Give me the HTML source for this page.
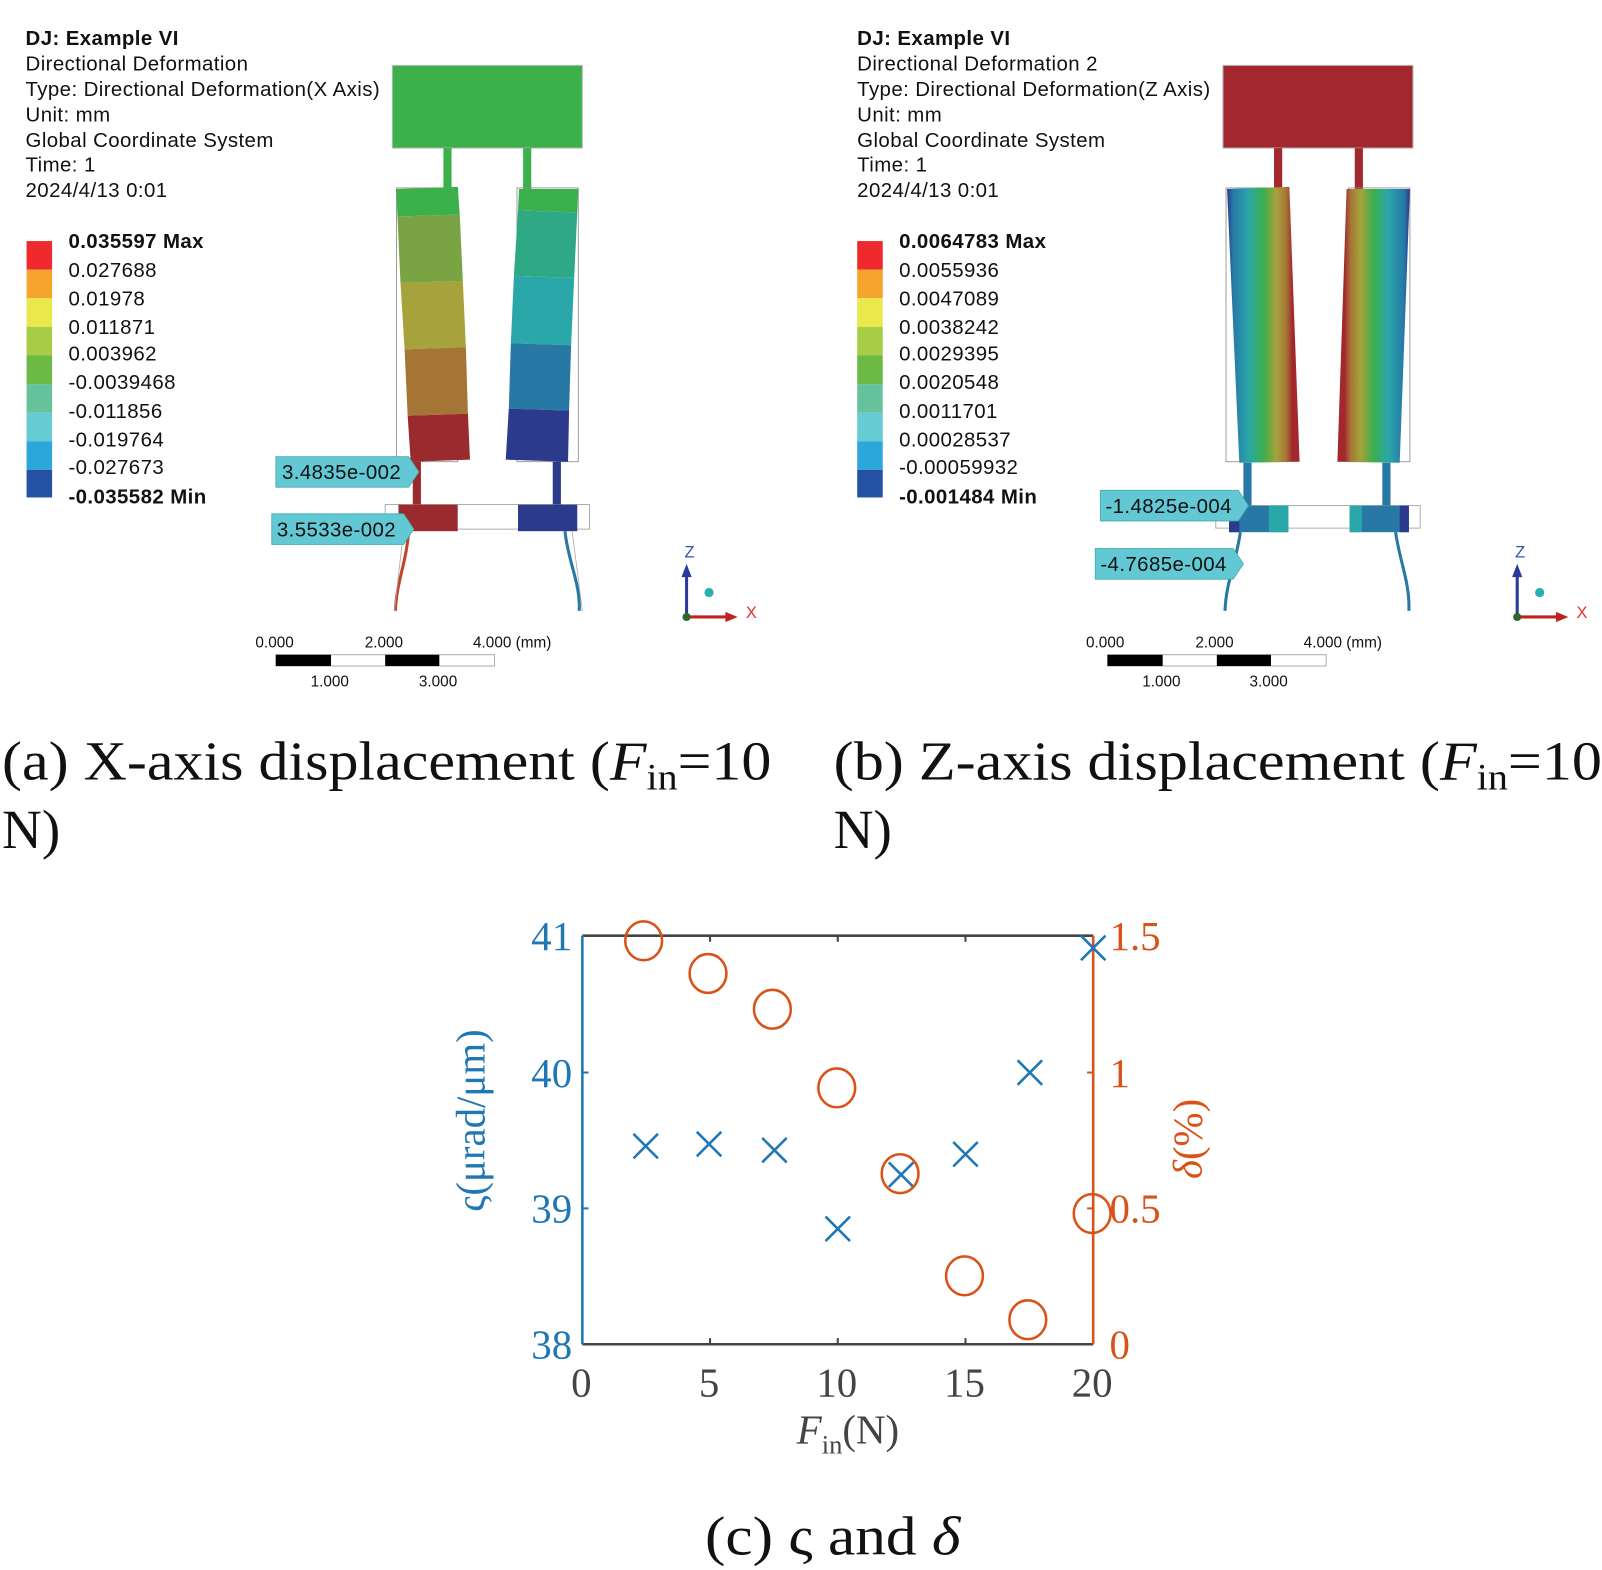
<!DOCTYPE html>
<html><head><meta charset="utf-8"><style>
html,body{margin:0;padding:0;background:#fff;}
svg{display:block;}
.a{font-family:"Liberation Sans",sans-serif;font-size:20px;letter-spacing:0.4px;fill:#111;}
.b{font-weight:bold;}
.s{font-family:"Liberation Serif",serif;}
</style></head><body>
<svg width="1602" height="1570" viewBox="0 0 1568 1537" preserveAspectRatio="none" xmlns="http://www.w3.org/2000/svg">
<defs>
<linearGradient id="gl" x1="0" x2="1" y1="0" y2="0">
<stop offset="0" stop-color="#2b3a8a"/><stop offset="0.08" stop-color="#2678a8"/><stop offset="0.3" stop-color="#2aa7a8"/><stop offset="0.5" stop-color="#3aae4e"/><stop offset="0.68" stop-color="#a6a23c"/><stop offset="0.82" stop-color="#a57535"/><stop offset="0.9" stop-color="#a3282e"/><stop offset="1" stop-color="#a3282e"/>
</linearGradient>
<linearGradient id="gr" x1="1" x2="0" y1="0" y2="0">
<stop offset="0" stop-color="#2b3a8a"/><stop offset="0.08" stop-color="#2678a8"/><stop offset="0.3" stop-color="#2aa7a8"/><stop offset="0.5" stop-color="#3aae4e"/><stop offset="0.68" stop-color="#a6a23c"/><stop offset="0.82" stop-color="#a57535"/><stop offset="0.9" stop-color="#a3282e"/><stop offset="1" stop-color="#a3282e"/>
</linearGradient>
</defs>

<!-- ===== Panel A text ===== -->
<g class="a">
<text x="25" y="44" class="b">DJ: Example VI</text>
<text x="25" y="69">Directional Deformation</text>
<text x="25" y="94">Type: Directional Deformation(X Axis)</text>
<text x="25" y="119">Unit: mm</text>
<text x="25" y="144">Global Coordinate System</text>
<text x="25" y="168">Time: 1</text>
<text x="25" y="193">2024/4/13 0:01</text>
<text x="67" y="243" class="b">0.035597 Max</text>
<text x="67" y="271">0.027688</text>
<text x="67" y="299">0.01978</text>
<text x="67" y="327">0.011871</text>
<text x="67" y="353">0.003962</text>
<text x="67" y="381">-0.0039468</text>
<text x="67" y="409">-0.011856</text>
<text x="67" y="437">-0.019764</text>
<text x="67" y="464">-0.027673</text>
<text x="67" y="493" class="b">-0.035582 Min</text>
</g>
<g>
<rect x="26" y="236" width="25" height="28" fill="#ee2a2e"/>
<rect x="26" y="264" width="25" height="28" fill="#f5a42e"/>
<rect x="26" y="292" width="25" height="28" fill="#ebe84c"/>
<rect x="26" y="320" width="25" height="28" fill="#a9cc46"/>
<rect x="26" y="348" width="25" height="28" fill="#6cba46"/>
<rect x="26" y="376" width="25" height="28" fill="#66c29d"/>
<rect x="26" y="404" width="25" height="28" fill="#66cbd3"/>
<rect x="26" y="432" width="25" height="28" fill="#2ca7dc"/>
<rect x="26" y="460" width="25" height="27" fill="#2451a3"/>
</g>

<!-- Device A -->
<g>
<rect x="384" y="64" width="186" height="81" fill="#3cb04a" stroke="#bbb" stroke-width="1"/>
<rect x="434" y="145" width="8" height="40" fill="#3cb04a"/>
<rect x="512" y="145" width="8" height="40" fill="#3cb04a"/>
<rect x="388" y="184" width="60" height="268" fill="none" stroke="#888" stroke-width="0.8"/>
<rect x="506" y="184" width="60" height="268" fill="none" stroke="#888" stroke-width="0.8"/>
<polygon points="388,185 448,183 450,210 389,212" fill="#3cb04a"/>
<polygon points="389,212 450,210 453,275 392,277" fill="#7aa444"/>
<polygon points="392,277 453,275 456,340 396,342" fill="#a6a23c"/>
<polygon points="396,342 456,340 458,405 399,407" fill="#a57535"/>
<polygon points="399,407 458,405 460,450 402,452" fill="#9b2a2e"/>
<polygon points="508,185 566,185 565,208 507,206" fill="#3aaf4e"/>
<polygon points="507,206 565,208 562,272 503,270" fill="#2ea885"/>
<polygon points="503,270 562,272 559,338 500,336" fill="#2aa7a8"/>
<polygon points="500,336 559,338 557,402 498,400" fill="#2878a5"/>
<polygon points="498,400 557,402 556,452 495,450" fill="#2b3a8a"/>
<rect x="404" y="452" width="8" height="42" fill="#9b2a2e"/>
<rect x="541" y="452" width="8" height="42" fill="#2b3a8a"/>
<rect x="377" y="494" width="200" height="24" fill="none" stroke="#999" stroke-width="0.8"/>
<rect x="390" y="494" width="58" height="26" fill="#9b2a2e"/>
<rect x="507" y="494" width="58" height="26" fill="#2b3a8a"/>
<path d="M400,520 C398,550 388,570 387,598" stroke="#c0452d" stroke-width="3" fill="none"/>
<path d="M553,520 C556,550 568,570 567,598" stroke="#2878a5" stroke-width="3" fill="none"/>
<path d="M395,520 L386,598 M560,520 L570,598" stroke="#aaa" stroke-width="0.8" fill="none"/>
<polygon points="270,447 400,447 410,462 400,477 270,477" fill="#62c8d4" stroke="#4aa" stroke-width="0.8"/>
<text x="276" y="469" class="a">3.4835e-002</text>
<polygon points="266,503 395,503 405,518 395,533 266,533" fill="#62c8d4" stroke="#4aa" stroke-width="0.8"/>
<text x="271" y="525" class="a">3.5533e-002</text>
</g>
<!-- scale A -->
<g font-family="Liberation Sans,sans-serif" font-size="15" fill="#111">
<text x="250" y="634">0.000</text><text x="357" y="634">2.000</text><text x="463" y="634">4.000 (mm)</text>
<rect x="270" y="641" width="214" height="11" fill="#fff" stroke="#999" stroke-width="0.8"/>
<rect x="270" y="641" width="54" height="11" fill="#000"/><rect x="377" y="641" width="53" height="11" fill="#000"/>
<text x="304" y="672">1.000</text><text x="410" y="672">3.000</text>
</g>
<!-- triad A -->
<g>
<line x1="672" y1="604" x2="672" y2="562" stroke="#2a3a9a" stroke-width="3"/><polygon points="667,565 677,565 672,552" fill="#2a3a9a"/>
<line x1="672" y1="604" x2="712" y2="604" stroke="#c02020" stroke-width="3"/><polygon points="710,599 710,609 722,604" fill="#c02020"/>
<circle cx="672" cy="604" r="4" fill="#2a6a2a"/><circle cx="694" cy="580" r="4.5" fill="#2ab0b0"/>
<text x="670" y="546" font-family="Liberation Sans,sans-serif" font-size="16" fill="#3050b0">Z</text>
<text x="730" y="605" font-family="Liberation Sans,sans-serif" font-size="16" fill="#e03030">X</text>
</g>

<!-- ===== Panel B text ===== -->
<g class="a">
<text x="839" y="44" class="b">DJ: Example VI</text>
<text x="839" y="69">Directional Deformation 2</text>
<text x="839" y="94">Type: Directional Deformation(Z Axis)</text>
<text x="839" y="119">Unit: mm</text>
<text x="839" y="144">Global Coordinate System</text>
<text x="839" y="168">Time: 1</text>
<text x="839" y="193">2024/4/13 0:01</text>
<text x="880" y="243" class="b">0.0064783 Max</text>
<text x="880" y="271">0.0055936</text>
<text x="880" y="299">0.0047089</text>
<text x="880" y="327">0.0038242</text>
<text x="880" y="353">0.0029395</text>
<text x="880" y="381">0.0020548</text>
<text x="880" y="409">0.0011701</text>
<text x="880" y="437">0.00028537</text>
<text x="880" y="464">-0.00059932</text>
<text x="880" y="493" class="b">-0.001484 Min</text>
</g>
<g>
<rect x="839" y="236" width="25" height="28" fill="#ee2a2e"/>
<rect x="839" y="264" width="25" height="28" fill="#f5a42e"/>
<rect x="839" y="292" width="25" height="28" fill="#ebe84c"/>
<rect x="839" y="320" width="25" height="28" fill="#a9cc46"/>
<rect x="839" y="348" width="25" height="28" fill="#6cba46"/>
<rect x="839" y="376" width="25" height="28" fill="#66c29d"/>
<rect x="839" y="404" width="25" height="28" fill="#66cbd3"/>
<rect x="839" y="432" width="25" height="28" fill="#2ca7dc"/>
<rect x="839" y="460" width="25" height="27" fill="#2451a3"/>
</g>
<!-- Device B -->
<g>
<rect x="1197" y="64" width="186" height="81" fill="#a3282e" stroke="#bbb" stroke-width="1"/>
<rect x="1247" y="145" width="8" height="40" fill="#a3282e"/>
<rect x="1326" y="145" width="8" height="40" fill="#a3282e"/>
<rect x="1200" y="184" width="60" height="268" fill="none" stroke="#888" stroke-width="0.8"/>
<rect x="1320" y="184" width="60" height="268" fill="none" stroke="#888" stroke-width="0.8"/>
<polygon points="1201,185 1262,183 1272,452 1213,453" fill="url(#gl)"/>
<polygon points="1318,185 1380,185 1370,453 1309,452" fill="url(#gr)"/>
<rect x="1217" y="453" width="8" height="42" fill="#2878a5"/>
<rect x="1353" y="453" width="8" height="42" fill="#2878a5"/>
<rect x="1190" y="495" width="200" height="22" fill="none" stroke="#999" stroke-width="0.8"/>
<rect x="1203" y="495" width="58" height="26" fill="#2878a5"/><rect x="1203" y="495" width="10" height="26" fill="#2b3a8a"/><rect x="1242" y="495" width="19" height="26" fill="#2aa7a8"/>
<rect x="1321" y="495" width="58" height="26" fill="#2878a5"/><rect x="1321" y="495" width="12" height="26" fill="#2aa7a8"/><rect x="1370" y="495" width="9" height="26" fill="#2b3a8a"/>
<path d="M1214,521 C1210,550 1200,570 1199,598" stroke="#2878a5" stroke-width="3" fill="none"/>
<path d="M1366,521 C1370,550 1380,570 1379,598" stroke="#2878a5" stroke-width="3" fill="none"/>
<polygon points="1077,480 1212,480 1222,495 1212,510 1077,510" fill="#62c8d4" stroke="#4aa" stroke-width="0.8"/>
<text x="1082" y="502" class="a">-1.4825e-004</text>
<polygon points="1072,537 1207,537 1217,552 1207,567 1072,567" fill="#62c8d4" stroke="#4aa" stroke-width="0.8"/>
<text x="1077" y="559" class="a">-4.7685e-004</text>
</g>
<g font-family="Liberation Sans,sans-serif" font-size="15" fill="#111">
<text x="1063" y="634">0.000</text><text x="1170" y="634">2.000</text><text x="1276" y="634">4.000 (mm)</text>
<rect x="1084" y="641" width="214" height="11" fill="#fff" stroke="#999" stroke-width="0.8"/>
<rect x="1084" y="641" width="54" height="11" fill="#000"/><rect x="1191" y="641" width="53" height="11" fill="#000"/>
<text x="1118" y="672">1.000</text><text x="1223" y="672">3.000</text>
</g>
<g>
<line x1="1485" y1="604" x2="1485" y2="562" stroke="#2a3a9a" stroke-width="3"/><polygon points="1480,565 1490,565 1485,552" fill="#2a3a9a"/>
<line x1="1485" y1="604" x2="1525" y2="604" stroke="#c02020" stroke-width="3"/><polygon points="1523,599 1523,609 1535,604" fill="#c02020"/>
<circle cx="1485" cy="604" r="4" fill="#2a6a2a"/><circle cx="1507" cy="580" r="4.5" fill="#2ab0b0"/>
<text x="1483" y="546" font-family="Liberation Sans,sans-serif" font-size="16" fill="#3050b0">Z</text>
<text x="1543" y="605" font-family="Liberation Sans,sans-serif" font-size="16" fill="#e03030">X</text>
</g>

<!-- captions -->
<g class="s" font-size="54" fill="#111">
<text x="2" y="763" textLength="753" lengthAdjust="spacingAndGlyphs">(a) X-axis displacement (<tspan font-style="italic">F</tspan><tspan font-size="36" dy="10">in</tspan><tspan dy="-10">=10</tspan></text>
<text x="2" y="830">N)</text>
<text x="816" y="763" textLength="752" lengthAdjust="spacingAndGlyphs">(b) Z-axis displacement (<tspan font-style="italic">F</tspan><tspan font-size="36" dy="10">in</tspan><tspan dy="-10">=10</tspan></text>
<text x="816" y="830">N)</text>
<text x="815" y="1522" text-anchor="middle" textLength="250" lengthAdjust="spacingAndGlyphs">(c) ς and <tspan font-style="italic">δ</tspan></text>
</g>

<!-- ===== Chart C ===== -->
<g>
<line x1="570" y1="916" x2="1070" y2="916" stroke="#444" stroke-width="2.5"/>
<line x1="570" y1="1316" x2="1070" y2="1316" stroke="#444" stroke-width="2.5"/>
<line x1="570" y1="916" x2="570" y2="1316" stroke="#1f77b4" stroke-width="2.5"/>
<line x1="1070" y1="916" x2="1070" y2="1316" stroke="#d95319" stroke-width="2.5"/>
<g stroke="#444" stroke-width="2">
<line x1="695" y1="916" x2="695" y2="922"/><line x1="820" y1="916" x2="820" y2="922"/><line x1="945" y1="916" x2="945" y2="922"/>
<line x1="695" y1="1316" x2="695" y2="1310"/><line x1="820" y1="1316" x2="820" y2="1310"/><line x1="945" y1="1316" x2="945" y2="1310"/>
</g>
<g stroke="#1f77b4" stroke-width="2"><line x1="570" y1="1050" x2="576" y2="1050"/><line x1="570" y1="1183" x2="576" y2="1183"/></g>
<g stroke="#d95319" stroke-width="2"><line x1="1070" y1="1050" x2="1064" y2="1050"/><line x1="1070" y1="1183" x2="1064" y2="1183"/></g>
<g class="s" font-size="40" fill="#1f77b4" text-anchor="end">
<text x="560" y="930">41</text><text x="560" y="1064">40</text><text x="560" y="1197">39</text><text x="560" y="1330">38</text>
</g>
<g class="s" font-size="40" fill="#d95319">
<text x="1086" y="930">1.5</text><text x="1086" y="1064">1</text><text x="1086" y="1197">0.5</text><text x="1086" y="1330">0</text>
</g>
<g class="s" font-size="40" fill="#444" text-anchor="middle">
<text x="569" y="1367">0</text><text x="694" y="1367">5</text><text x="819" y="1367">10</text><text x="944" y="1367">15</text><text x="1069" y="1367">20</text>
</g>
<text x="830" y="1413" class="s" font-size="40" fill="#444" text-anchor="middle"><tspan font-style="italic">F</tspan><tspan font-size="26" dy="10">in</tspan><tspan dy="-10">(N)</tspan></text>
<text transform="translate(474,1097) rotate(-90)" class="s" font-size="40" fill="#1f77b4" text-anchor="middle">ς(μrad/μm)</text>
<text transform="translate(1176,1115) rotate(-90)" class="s" font-size="40" fill="#d95319" text-anchor="middle"><tspan font-style="italic">δ</tspan>(%)</text>
<g stroke="#1f77b4" stroke-width="2.5" fill="none">
<path d="M620,1110l24,24m0,-24l-24,24"/>
<path d="M682,1108l24,24m0,-24l-24,24"/>
<path d="M746,1114l24,24m0,-24l-24,24"/>
<path d="M808,1191l24,24m0,-24l-24,24"/>
<path d="M870,1138l24,24m0,-24l-24,24"/>
<path d="M933,1118l24,24m0,-24l-24,24"/>
<path d="M996,1038l24,24m0,-24l-24,24"/>
<path d="M1058,916l24,24m0,-24l-24,24"/>
</g>
<g stroke="#d95319" stroke-width="2.5" fill="none">
<ellipse cx="630" cy="921" rx="18" ry="19"/>
<ellipse cx="693" cy="953" rx="18" ry="19"/>
<ellipse cx="756" cy="988" rx="18" ry="19"/>
<ellipse cx="819" cy="1065" rx="18" ry="19"/>
<ellipse cx="881" cy="1149" rx="18" ry="19"/>
<ellipse cx="944" cy="1249" rx="18" ry="19"/>
<ellipse cx="1006" cy="1292" rx="18" ry="19"/>
<ellipse cx="1069" cy="1188" rx="18" ry="19"/>
</g>
</g>
</svg>
</body></html>
